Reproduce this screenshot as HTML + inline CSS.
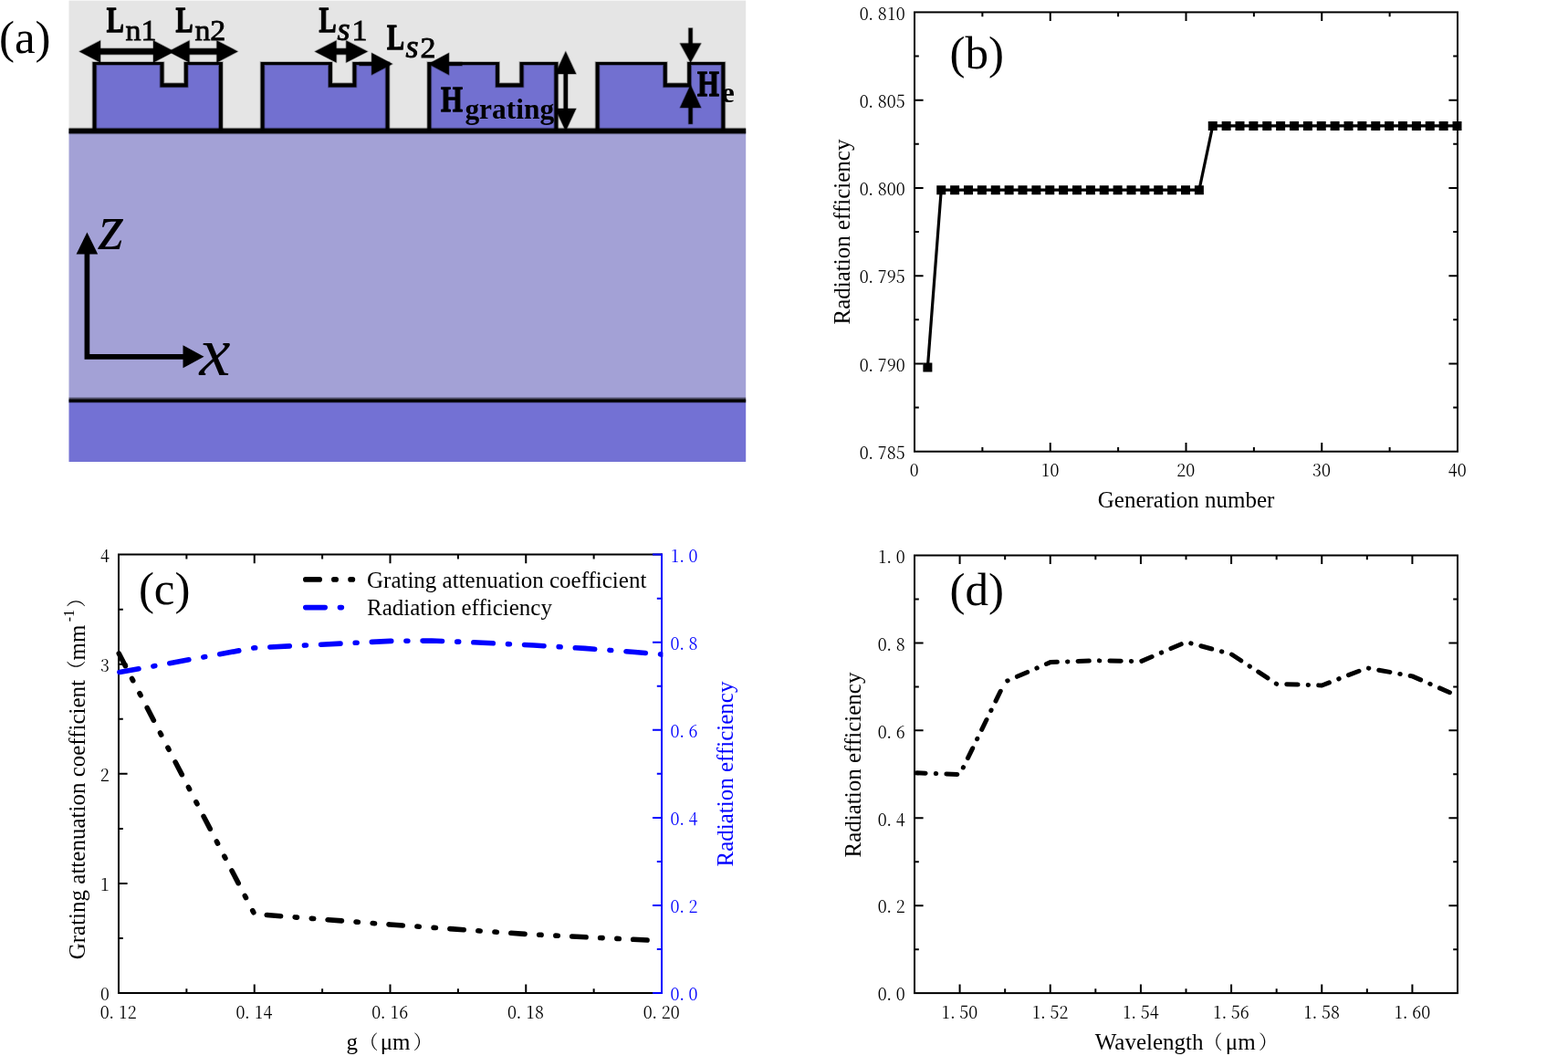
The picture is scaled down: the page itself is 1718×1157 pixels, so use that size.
<!DOCTYPE html>
<html lang="en"><head><meta charset="utf-8"><title>Figure</title>
<style>
html,body{margin:0;padding:0;background:#fff;}
body{width:1718px;height:1157px;overflow:hidden;}
svg{display:block;}
.tk{font-family:'Noto Serif CJK SC','Liberation Serif',serif;font-size:19px;font-weight:400;text-anchor:middle;}
.ax{font-family:'Liberation Serif','Noto Serif CJK SC',serif;font-size:25px;text-anchor:middle;}
.pl{font-family:'Liberation Serif','Noto Serif CJK SC',serif;font-size:51px;}
.lg{font-family:'Liberation Serif','Noto Serif CJK SC',serif;font-size:25px;}
.bm{font-family:'Liberation Serif','Noto Serif CJK SC',serif;font-weight:bold;}
.it{font-family:'Liberation Serif','Noto Serif CJK SC',serif;font-style:italic;}
.al{font-family:'Liberation Serif','Noto Serif CJK SC',serif;font-size:25px;}
.pr{font-family:'Noto Serif CJK SC','Liberation Serif',serif;font-size:21px;font-weight:300;}
.fr{fill:none;stroke:#000;stroke-width:2;}
.t{stroke:#000;stroke-width:2;fill:none;}
.tb{stroke:#0000ff;stroke-width:2;fill:none;}
</style></head><body>
<svg width="1718" height="1157" viewBox="0 0 1718 1157" role="img" aria-label="Four-panel figure: grating structure and radiation efficiency plots">
<rect x="0" y="0" width="1718" height="1157" fill="#fff"/>
<defs><linearGradient id="fd" x1="0" y1="0" x2="0" y2="1"><stop offset="0" stop-color="#000" stop-opacity="0"/><stop offset="1" stop-color="#000" stop-opacity="1"/></linearGradient><clipPath id="cc"><rect x="120" y="600" width="606.4" height="500"/></clipPath><clipPath id="ca"><rect x="75.5" y="0" width="741.7" height="506"/></clipPath></defs>
<g id="panel-a">
<rect x="75.5" y="0.6" width="741.7" height="142.9" fill="#e5e5e5"/>
<rect x="75.5" y="143.5" width="741.7" height="294.5" fill="#a3a1d6"/>
<rect x="75.5" y="438" width="741.7" height="68" fill="#7371d4"/>
<g clip-path="url(#ca)"><g>
<path d="M101.5 143.5V68.1H179.5V91.2H201.8V68.1H243.9V143.5Z" fill="#000" stroke="#000" stroke-opacity="0.3" stroke-width="1.8"/>
<path d="M105.5 143.5V71.1H175.5V95.4H205.8V71.1H239.9V143.5Z" fill="#7270d0" stroke="#000" stroke-opacity="0.3" stroke-width="1.8"/>
<path d="M285.6 143.5V68.1H363.9V91.2H386.4V68.1H426.6V143.5Z" fill="#000" stroke="#000" stroke-opacity="0.3" stroke-width="1.8"/>
<path d="M289.6 143.5V71.1H359.9V95.4H390.4V71.1H422.6V143.5Z" fill="#7270d0" stroke="#000" stroke-opacity="0.3" stroke-width="1.8"/>
<path d="M468.3 143.5V68.1H547.1V91.2H569.5V68.1H611.4V143.5Z" fill="#000" stroke="#000" stroke-opacity="0.3" stroke-width="1.8"/>
<path d="M472.3 143.5V71.1H543.1V95.4H573.5V71.1H607.4V143.5Z" fill="#7270d0" stroke="#000" stroke-opacity="0.3" stroke-width="1.8"/>
<path d="M652.6 143.5V68.1H730.8V91.2H753.2V68.1H794.4V143.5Z" fill="#000" stroke="#000" stroke-opacity="0.3" stroke-width="1.8"/>
<path d="M656.6 143.5V71.1H726.8V95.4H757.2V71.1H790.4V143.5Z" fill="#7270d0" stroke="#000" stroke-opacity="0.3" stroke-width="1.8"/>
<path d="M65.5 143.5H827.2" stroke="#000" stroke-opacity="0.3" stroke-width="7.4"/>
<path d="M65.5 143.5H827.2" stroke="#000" stroke-width="5.3"/>
<rect x="65.5" y="434.6" width="761.7" height="3.6" fill="url(#fd)"/>
<rect x="65.5" y="438" width="761.7" height="2.8" fill="#000"/>
<rect x="65.5" y="440.8" width="761.7" height="0.7" fill="#000" fill-opacity="0.35"/>
</g></g>
<g stroke="#000" stroke-opacity="0.3" stroke-width="1.6" stroke-linejoin="round">
<rect x="109" y="53.15" width="60" height="6.5" fill="#000"/>
<path d="M87 56.4L110 44.4V68.4Z" fill="#000"/>
<path d="M191 56.4L168 44.4V68.4Z" fill="#000"/>
<rect x="206.5" y="53.15" width="32" height="6.5" fill="#000"/>
<path d="M184.5 56.4L207.5 44.4V68.4Z" fill="#000"/>
<path d="M260.5 56.4L237.5 44.4V68.4Z" fill="#000"/>
<rect x="367.5" y="53.15" width="12.8" height="6.5" fill="#000"/>
<path d="M345 56.4L368.5 44.4V68.4Z" fill="#000"/>
<path d="M402.8 56.4L379.3 44.4V68.4Z" fill="#000"/>
<rect x="393.8" y="68.3" width="14.4" height="3.6" fill="#000"/>
<path d="M430 70.1L407.2 58.1V82.1Z" fill="#000"/>
<rect x="490.9" y="68.3" width="15.3" height="3.6" fill="#000"/>
<path d="M469.4 70.1L491.9 58.1V82.1Z" fill="#000"/>
<rect x="617.6" y="79.9" width="4.4" height="40.1" fill="#000"/>
<path d="M619.8 56.4L608.4 80.9H631.2Z" fill="#000"/>
<path d="M619.8 143.5L608.4 119H631.2Z" fill="#000"/>
<rect x="754.5" y="30.8" width="4.2" height="17.8" fill="#000"/>
<path d="M756.6 68.6L745.1 47.6H768.1Z" fill="#000"/>
<rect x="754.5" y="117" width="4.2" height="18.8" fill="#000"/>
<path d="M756.6 93L745.1 118H768.1Z" fill="#000"/>
</g>
<g>
<path d="M95.4 277V390.8H201" fill="none" stroke="#000" stroke-width="5.7" stroke-linejoin="miter"/>
<path d="M95.4 254.5L83.6 278.5H107.2Z" fill="#000"/>
<path d="M223.5 390.8L200.5 378.3V403.3Z" fill="#000"/>
</g>
<text class="pl" x="-1" y="57.5">(a)</text>
<text class="bm"><tspan x="116.8" y="34.6" textLength="19.05" lengthAdjust="spacingAndGlyphs" style="font-size:40.5px;stroke:#000;stroke-width:1.4px;stroke-linejoin:round">L</tspan><tspan x="137.6" y="44" textLength="33.92" lengthAdjust="spacingAndGlyphs" style="font-size:32px;font-weight:normal;font-style:normal;stroke:#000;stroke-width:0.8px">n1</tspan></text>
<text class="bm"><tspan x="192.6" y="34.6" textLength="19.05" lengthAdjust="spacingAndGlyphs" style="font-size:40.5px;stroke:#000;stroke-width:1.4px;stroke-linejoin:round">L</tspan><tspan x="213.4" y="44" textLength="33.92" lengthAdjust="spacingAndGlyphs" style="font-size:32px;font-weight:normal;font-style:normal;stroke:#000;stroke-width:0.8px">n2</tspan></text>
<text class="bm"><tspan x="349.4" y="34.8" textLength="19.05" lengthAdjust="spacingAndGlyphs" style="font-size:40.5px;stroke:#000;stroke-width:1.4px;stroke-linejoin:round">L</tspan><tspan x="369.5" y="43.6" textLength="14.02" lengthAdjust="spacingAndGlyphs" style="font-size:36px;font-weight:normal;font-style:italic;stroke:#000;stroke-width:1px">s</tspan><tspan x="385.5" y="44" textLength="16.96" lengthAdjust="spacingAndGlyphs" style="font-size:32px;font-weight:normal;font-style:normal;stroke:#000;stroke-width:0.8px">1</tspan></text>
<text class="bm"><tspan x="424" y="53.8" textLength="19.05" lengthAdjust="spacingAndGlyphs" style="font-size:40.5px;stroke:#000;stroke-width:1.4px;stroke-linejoin:round">L</tspan><tspan x="444.5" y="62.6" textLength="14.02" lengthAdjust="spacingAndGlyphs" style="font-size:36px;font-weight:normal;font-style:italic;stroke:#000;stroke-width:1px">s</tspan><tspan x="460.5" y="63" textLength="16.96" lengthAdjust="spacingAndGlyphs" style="font-size:32px;font-weight:normal;font-style:normal;stroke:#000;stroke-width:0.8px">2</tspan></text>
<text class="bm"><tspan x="483" y="122" textLength="23.94" lengthAdjust="spacingAndGlyphs" style="font-size:40.5px;stroke:#000;stroke-width:1.4px;stroke-linejoin:round">H</tspan><tspan x="509.4" y="130" textLength="97.88" lengthAdjust="spacingAndGlyphs" style="font-size:31px;font-weight:bold;font-style:normal">grating</tspan></text>
<text class="bm"><tspan x="764" y="104.8" textLength="23.94" lengthAdjust="spacingAndGlyphs" style="font-size:40.5px;stroke:#000;stroke-width:1.4px;stroke-linejoin:round">H</tspan><tspan x="790.2" y="111.6" textLength="14.59" lengthAdjust="spacingAndGlyphs" style="font-size:31px;font-weight:bold;font-style:normal">e</tspan></text>
<text class="it" x="108" y="273" font-size="72">z</text>
<text class="it" x="218.6" y="411" font-size="76.5">x</text>
</g>
<g id="panel-b">
<rect class="fr" x="1002" y="13.4" width="595" height="481.3"/>
<path class="t" d="M1150.75 494.7v-9.6M1150.75 13.4v9.6M1299.5 494.7v-9.6M1299.5 13.4v9.6M1448.25 494.7v-9.6M1448.25 13.4v9.6M1076.38 494.7v-4.8M1076.38 13.4v4.8M1225.12 494.7v-4.8M1225.12 13.4v4.8M1373.88 494.7v-4.8M1373.88 13.4v4.8M1522.62 494.7v-4.8M1522.62 13.4v4.8"/>
<path class="t" d="M1002 398.44h9.6M1002 302.18h9.6M1002 205.92h9.6M1002 109.66h9.6M1002 446.57h4.8M1002 350.31h4.8M1002 254.05h4.8M1002 157.79h4.8M1002 61.53h4.8"/>
<path class="t" d="M1597 398.44h-9.6M1597 302.18h-9.6M1597 205.92h-9.6M1597 109.66h-9.6M1597 446.57h-4.8M1597 350.31h-4.8M1597 254.05h-4.8M1597 157.79h-4.8M1597 61.53h-4.8"/>
<text class="tk" transform="translate(941.7 503) scale(0.94 1.02)" x="5.32 13.4 26.6 37.23 47.87">0.785</text>
<text class="tk" transform="translate(941.7 406.74) scale(0.94 1.02)" x="5.32 13.4 26.6 37.23 47.87">0.790</text>
<text class="tk" transform="translate(941.7 310.48) scale(0.94 1.02)" x="5.32 13.4 26.6 37.23 47.87">0.795</text>
<text class="tk" transform="translate(941.7 214.22) scale(0.94 1.02)" x="5.32 13.4 26.6 37.23 47.87">0.800</text>
<text class="tk" transform="translate(941.7 117.96) scale(0.94 1.02)" x="5.32 13.4 26.6 37.23 47.87">0.805</text>
<text class="tk" transform="translate(941.7 21.7) scale(0.94 1.02)" x="5.32 13.4 26.6 37.23 47.87">0.810</text>
<text class="tk" transform="translate(996.7 522.4) scale(0.94 1.02)" x="5.32">0</text>
<text class="tk" transform="translate(1140.45 522.4) scale(0.94 1.02)" x="5.32 15.96">10</text>
<text class="tk" transform="translate(1289.2 522.4) scale(0.94 1.02)" x="5.32 15.96">20</text>
<text class="tk" transform="translate(1437.95 522.4) scale(0.94 1.02)" x="5.32 15.96">30</text>
<text class="tk" transform="translate(1586.7 522.4) scale(0.94 1.02)" x="5.32 15.96">40</text>
<text class="ax" x="1299.6" y="556">Generation number</text>
<text class="ax" transform="translate(930.5 254) rotate(-90)">Radiation efficiency</text>
<text class="pl" x="1040.5" y="74.7">(b)</text>
<polyline fill="none" stroke="#000" stroke-width="3.2" stroke-linejoin="round" points="1016.38,402.59 1031.25,208.15 1046.12,208.15 1061,208.15 1075.88,208.15 1090.75,208.15 1105.62,208.15 1120.5,208.15 1135.38,208.15 1150.25,208.15 1165.12,208.15 1180,208.15 1194.88,208.15 1209.75,208.15 1224.62,208.15 1239.5,208.15 1254.38,208.15 1269.25,208.15 1284.12,208.15 1299,208.15 1313.88,208.15 1328.75,137.88 1343.62,137.88 1358.5,137.88 1373.38,137.88 1388.25,137.88 1403.12,137.88 1418,137.88 1432.88,137.88 1447.75,137.88 1462.62,137.88 1477.5,137.88 1492.38,137.88 1507.25,137.88 1522.12,137.88 1537,137.88 1551.88,137.88 1566.75,137.88 1581.62,137.88 1596.5,137.88"/>
<path d="M1011.38 397.59h10v10h-10zM1026.25 203.15h10v10h-10zM1041.12 203.15h10v10h-10zM1056 203.15h10v10h-10zM1070.88 203.15h10v10h-10zM1085.75 203.15h10v10h-10zM1100.62 203.15h10v10h-10zM1115.5 203.15h10v10h-10zM1130.38 203.15h10v10h-10zM1145.25 203.15h10v10h-10zM1160.12 203.15h10v10h-10zM1175 203.15h10v10h-10zM1189.88 203.15h10v10h-10zM1204.75 203.15h10v10h-10zM1219.62 203.15h10v10h-10zM1234.5 203.15h10v10h-10zM1249.38 203.15h10v10h-10zM1264.25 203.15h10v10h-10zM1279.12 203.15h10v10h-10zM1294 203.15h10v10h-10zM1308.88 203.15h10v10h-10zM1323.75 132.88h10v10h-10zM1338.62 132.88h10v10h-10zM1353.5 132.88h10v10h-10zM1368.38 132.88h10v10h-10zM1383.25 132.88h10v10h-10zM1398.12 132.88h10v10h-10zM1413 132.88h10v10h-10zM1427.88 132.88h10v10h-10zM1442.75 132.88h10v10h-10zM1457.62 132.88h10v10h-10zM1472.5 132.88h10v10h-10zM1487.38 132.88h10v10h-10zM1502.25 132.88h10v10h-10zM1517.12 132.88h10v10h-10zM1532 132.88h10v10h-10zM1546.88 132.88h10v10h-10zM1561.75 132.88h10v10h-10zM1576.62 132.88h10v10h-10zM1591.5 132.88h10v10h-10z" fill="#000"/>
</g>
<g id="panel-c">
<path class="fr" d="M725 607.6H130V1088.1H725" stroke-linecap="square"/>
<path d="M725 606.6V1089.1" stroke="#0000ff" stroke-width="2" fill="none"/>
<path class="t" d="M278.75 1088.1v-9.6M278.75 607.6v9.6M427.5 1088.1v-9.6M427.5 607.6v9.6M576.25 1088.1v-9.6M576.25 607.6v9.6M204.38 1088.1v-4.8M204.38 607.6v4.8M353.12 1088.1v-4.8M353.12 607.6v4.8M501.88 1088.1v-4.8M501.88 607.6v4.8M650.63 1088.1v-4.8M650.63 607.6v4.8"/>
<path class="t" d="M130 967.97h9.6M130 847.85h9.6M130 727.73h9.6M130 1028.04h4.8M130 907.91h4.8M130 787.79h4.8M130 667.66h4.8"/>
<path class="tb" d="M725 1088.1h-10M725 992h-10M725 895.9h-10M725 799.8h-10M725 703.7h-10M725 607.6h-10M725 1040.05h-5.2M725 943.95h-5.2M725 847.85h-5.2M725 751.75h-5.2M725 655.65h-5.2"/>
<text class="tk" transform="translate(110 1096.4) scale(0.94 1.02)" x="5.32">0</text>
<text class="tk" transform="translate(110 976.27) scale(0.94 1.02)" x="5.32">1</text>
<text class="tk" transform="translate(110 856.15) scale(0.94 1.02)" x="5.32">2</text>
<text class="tk" transform="translate(110 736.02) scale(0.94 1.02)" x="5.32">3</text>
<text class="tk" transform="translate(110 615.9) scale(0.94 1.02)" x="5.32">4</text>
<text class="tk" transform="translate(109.7 1116.4) scale(0.94 1.02)" x="5.32 13.4 26.6 37.23">0.12</text>
<text class="tk" transform="translate(258.45 1116.4) scale(0.94 1.02)" x="5.32 13.4 26.6 37.23">0.14</text>
<text class="tk" transform="translate(407.2 1116.4) scale(0.94 1.02)" x="5.32 13.4 26.6 37.23">0.16</text>
<text class="tk" transform="translate(555.95 1116.4) scale(0.94 1.02)" x="5.32 13.4 26.6 37.23">0.18</text>
<text class="tk" transform="translate(704.7 1116.4) scale(0.94 1.02)" x="5.32 13.4 26.6 37.23">0.20</text>
<text class="tk" transform="translate(734.5 1096.4) scale(0.94 1.02)" x="5.32 13.4 26.6" fill="#0000ff">0.0</text>
<text class="tk" transform="translate(734.5 1000.3) scale(0.94 1.02)" x="5.32 13.4 26.6" fill="#0000ff">0.2</text>
<text class="tk" transform="translate(734.5 904.2) scale(0.94 1.02)" x="5.32 13.4 26.6" fill="#0000ff">0.4</text>
<text class="tk" transform="translate(734.5 808.1) scale(0.94 1.02)" x="5.32 13.4 26.6" fill="#0000ff">0.6</text>
<text class="tk" transform="translate(734.5 712) scale(0.94 1.02)" x="5.32 13.4 26.6" fill="#0000ff">0.8</text>
<text class="tk" transform="translate(734.5 615.9) scale(0.94 1.02)" x="5.32 13.4 26.6" fill="#0000ff">1.0</text>
<text class="al"><tspan x="379.6" y="1150">g</tspan><tspan class="pr" x="393.6" y="1149.3">（</tspan><tspan x="416.7" y="1150">μm</tspan><tspan class="pr" x="452.8" y="1149.3">）</tspan></text>
<text class="al" transform="translate(92.8 1051.3) rotate(-90)"><tspan x="0" y="0">Grating attenuation coefficient</tspan><tspan class="pr" x="306.9" y="-1.5">（</tspan><tspan x="327.8" y="0">mm</tspan><tspan x="370.1" y="-11.6" style="font-size:16px">-1</tspan><tspan class="pr" x="385.8" y="-1.5">）</tspan></text>
<text class="ax" fill="#0000ff" transform="translate(803 848) rotate(-90)">Radiation efficiency</text>
<text class="pl" x="151.9" y="661.8">(c)</text>
<text class="lg" x="402" y="644">Grating attenuation coefficient</text>
<text class="lg" x="402" y="674">Radiation efficiency</text>
<path d="M334.8 634.9H386.4" fill="none" stroke="#000" stroke-width="5.6" stroke-linecap="round" stroke-dasharray="15.4 15.6 2.4 15.8 2.4 15.46"/>
<path d="M334.8 665.6H374.4" fill="none" stroke="#0000ff" stroke-width="5.6" stroke-linecap="round" stroke-dasharray="21.4 16.25 1.9 16.25"/>
<path fill="none" stroke="#000" stroke-width="5.6" stroke-linecap="round" stroke-linejoin="round" stroke-dasharray="15.4 15.6 2.4 15.8 2.4 15.46" stroke-dashoffset="-1.7" d="M129.5 714.5L278.75 1001.5L427.5 1013L576.3 1023.5L712 1030.2"/>
<path clip-path="url(#cc)" fill="none" stroke="#0000ff" stroke-width="5.6" stroke-linecap="round" stroke-linejoin="round" stroke-dasharray="21.4 16.25 1.9 16.25" d="M130.9 736.6L278.75 709.8L427.5 702.4L473 702L529 704.2L584.8 707L640.7 710.4L695.7 714.5L727 717.2"/>
</g>
<g id="panel-d">
<rect class="fr" x="1002" y="608.5" width="595" height="479.6"/>
<path class="t" d="M1051.58 1088.1v-9.6M1051.58 608.5v9.6M1150.75 1088.1v-9.6M1150.75 608.5v9.6M1249.92 1088.1v-9.6M1249.92 608.5v9.6M1349.08 1088.1v-9.6M1349.08 608.5v9.6M1448.25 1088.1v-9.6M1448.25 608.5v9.6M1547.42 1088.1v-9.6M1547.42 608.5v9.6M1101.17 1088.1v-4.8M1101.17 608.5v4.8M1200.33 1088.1v-4.8M1200.33 608.5v4.8M1299.5 1088.1v-4.8M1299.5 608.5v4.8M1398.67 1088.1v-4.8M1398.67 608.5v4.8M1497.83 1088.1v-4.8M1497.83 608.5v4.8"/>
<path class="t" d="M1002 992.18h9.6M1002 896.26h9.6M1002 800.34h9.6M1002 704.42h9.6M1002 1040.14h4.8M1002 944.22h4.8M1002 848.3h4.8M1002 752.38h4.8M1002 656.46h4.8"/>
<path class="t" d="M1597 992.18h-9.6M1597 896.26h-9.6M1597 800.34h-9.6M1597 704.42h-9.6M1597 1040.14h-4.8M1597 944.22h-4.8M1597 848.3h-4.8M1597 752.38h-4.8M1597 656.46h-4.8"/>
<text class="tk" transform="translate(961.7 1096.4) scale(0.94 1.02)" x="5.32 13.4 26.6">0.0</text>
<text class="tk" transform="translate(961.7 1000.48) scale(0.94 1.02)" x="5.32 13.4 26.6">0.2</text>
<text class="tk" transform="translate(961.7 904.56) scale(0.94 1.02)" x="5.32 13.4 26.6">0.4</text>
<text class="tk" transform="translate(961.7 808.64) scale(0.94 1.02)" x="5.32 13.4 26.6">0.6</text>
<text class="tk" transform="translate(961.7 712.72) scale(0.94 1.02)" x="5.32 13.4 26.6">0.8</text>
<text class="tk" transform="translate(961.7 616.8) scale(0.94 1.02)" x="5.32 13.4 26.6">1.0</text>
<text class="tk" transform="translate(1031.28 1116.4) scale(0.94 1.02)" x="5.32 13.4 26.6 37.23">1.50</text>
<text class="tk" transform="translate(1130.45 1116.4) scale(0.94 1.02)" x="5.32 13.4 26.6 37.23">1.52</text>
<text class="tk" transform="translate(1229.62 1116.4) scale(0.94 1.02)" x="5.32 13.4 26.6 37.23">1.54</text>
<text class="tk" transform="translate(1328.78 1116.4) scale(0.94 1.02)" x="5.32 13.4 26.6 37.23">1.56</text>
<text class="tk" transform="translate(1427.95 1116.4) scale(0.94 1.02)" x="5.32 13.4 26.6 37.23">1.58</text>
<text class="tk" transform="translate(1527.12 1116.4) scale(0.94 1.02)" x="5.32 13.4 26.6 37.23">1.60</text>
<text class="al"><tspan x="1199.7" y="1150">Wavelength</tspan><tspan class="pr" x="1318.4" y="1149.3">（</tspan><tspan x="1342.8" y="1150">μm</tspan><tspan class="pr" x="1379" y="1149.3">）</tspan></text>
<text class="ax" transform="translate(942.5 838) rotate(-90)">Radiation efficiency</text>
<text class="pl" x="1040.5" y="662.6">(d)</text>
<path fill="none" stroke="#000" stroke-width="5" stroke-linecap="round" stroke-linejoin="round" stroke-dasharray="12 11.2 0.4 11.2" stroke-dashoffset="2.4" d="M1004.5 846.8L1051.6 848.6L1100.3 748.9"/>
<path fill="none" stroke="#000" stroke-width="5" stroke-linecap="round" stroke-linejoin="round" stroke-dasharray="12.3 11.12 0.4 11.13" stroke-dashoffset="20.6" d="M1101.2 747L1150.8 725.6L1200.3 723.8L1250 724.7L1299.5 703.4L1349 716.7L1398.7 749.3L1448.3 751L1497.8 731.8L1547.4 740.9L1588.4 758.7"/>
</g>
</svg>
</body></html>
